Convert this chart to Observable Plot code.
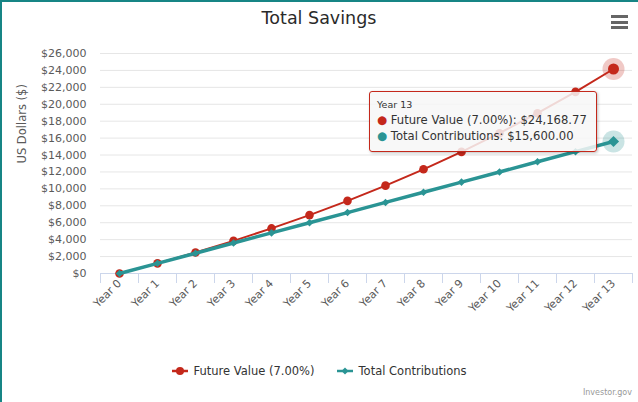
<!DOCTYPE html>
<html><head><meta charset="utf-8">
<script src="https://cdn.jsdelivr.net/npm/d3@7"></script>
<script src="https://cdn.jsdelivr.net/npm/@observablehq/plot@0.6"></script>
<style>
body{margin:0;background:#fff;}
#wrap{position:relative;width:638px;height:402px;overflow:hidden;font-family:"DejaVu Sans",sans-serif;background:#fff;}
#frame{position:absolute;left:0;top:0;width:638px;height:402px;border-top:2px solid #178585;border-left:2px solid #178585;box-sizing:border-box;pointer-events:none;z-index:5}
#title{position:absolute;top:6px;left:0;width:638px;text-align:center;font-size:17.5px;color:#2a2a2a;line-height:24px;}
#chart{position:absolute;top:40px;left:0;}
#menu{position:absolute;left:611px;top:15px;width:17px;}
#menu div{height:3px;background:#666;margin-bottom:2.5px;}
#tip{position:absolute;left:369px;top:91px;width:226px;height:59px;border:1px solid #c4281b;border-radius:3px;background:rgba(247,247,247,0.85);box-shadow:1px 1px 3px rgba(0,0,0,0.25);color:#333;box-sizing:content-box;}
#tip .hd{position:absolute;left:7px;top:7px;font-size:9.5px;}
#tip .ln{position:absolute;left:7px;font-size:11.6px;white-space:nowrap;}
#legend{position:absolute;top:364px;left:0;width:638px;display:flex;justify-content:center;align-items:center;font-size:11.5px;color:#333;}
#legend .item{display:flex;align-items:center;margin:0 11px;}
#legend svg{margin-right:6px;}
#credits{position:absolute;right:6px;top:388px;font-size:8px;color:#999;}
</style></head>
<body><div id="wrap"><div id="frame"></div>
<div id="title"></div>
<div id="chart"></div>
<div id="menu"><div></div><div></div><div></div></div>
<div id="legend"></div>
<div id="credits">Investor.gov</div>
<div id="tip"></div>
</div>
<script>
const years = ["Year 0","Year 1","Year 2","Year 3","Year 4","Year 5","Year 6","Year 7","Year 8","Year 9","Year 10","Year 11","Year 12","Year 13"];
const futureValue = [0, 1200, 2484, 3857.88, 5327.93, 6900.89, 8583.95, 10384.83, 12311.77, 14373.60, 16579.75, 18940.33, 21466.15, 24168.77];
const contributions = [0, 1200, 2400, 3600, 4800, 6000, 7200, 8400, 9600, 10800, 12000, 13200, 14400, 15600];
const yTicks = [0, 2000, 4000, 6000, 8000, 10000, 12000, 14000, 16000, 18000, 20000, 22000, 24000, 26000];
const seriesNames = ["Future Value (7.00%)", "Total Contributions"];
const seriesColors = ["#c4281b", "#2a9494"];
const titleText = "Total Savings";
const yLabel = "US Dollars ($)";
const hoverIndex = 13;

const RED = seriesColors[0], TEAL = seriesColors[1];
document.getElementById("title").textContent = titleText;

const data = years.map((y, i) => ({year: y, fv: futureValue[i], tc: contributions[i]}));
const hover = [data[hoverIndex]];
const W = 638, ML = 100, MR = 6;
const half = (W - ML - MR) / years.length / 2;
const money = d => "$" + d3.format(",")(d);

const plot = Plot.plot({
  width: W, height: 300, marginLeft: ML, marginRight: MR, marginTop: 13, marginBottom: 67,
  style: {fontFamily: '"DejaVu Sans", sans-serif', fontSize: "11px", color: "#5a5a5a", background: "transparent", overflow: "visible"},
  x: {type: "point", domain: years, padding: 0.5, label: null},
  y: {domain: [0, 26000], label: null},
  marks: [
    Plot.gridY(yTicks, {stroke: "#e6e6e6", strokeOpacity: 1}),
    Plot.axisY(yTicks, {tickSize: 0, tickPadding: 14, tickFormat: money, fill: "#5a5a5a", fontSize: 11, label: null}),
    Plot.text([yLabel], {frameAnchor: "left", dx: -78, rotate: -90, fontSize: 11.5, fill: "#5a5a5a"}),
    Plot.ruleY([0], {stroke: "#ccd6eb"}),
    Plot.axisX(years, {tickSize: 10, dx: -half, tickFormat: () => "", stroke: "#ccd6eb", strokeOpacity: 1, label: null}),
    Plot.axisX([years[years.length - 1]], {tickSize: 10, dx: half, tickFormat: () => "", stroke: "#ccd6eb", strokeOpacity: 1, label: null}),
    Plot.axisX(years, {tickSize: 0, tickRotate: -45, tickPadding: 8, fill: "#5a5a5a", fontSize: 11, label: null}),
    Plot.dot(hover, {x: "year", y: "fv", r: 11, fill: RED, fillOpacity: 0.25}),
    Plot.dot(hover, {x: "year", y: "tc", r: 11, fill: TEAL, fillOpacity: 0.25}),
    Plot.line(data, {x: "year", y: "fv", stroke: RED, strokeWidth: 2}),
    Plot.dot(data, {x: "year", y: "fv", r: 4.3, fill: RED}),
    Plot.dot(hover, {x: "year", y: "fv", r: 5.5, fill: RED}),
    Plot.line(data, {x: "year", y: "tc", stroke: TEAL, strokeWidth: 3.5}),
    Plot.dot(data, {x: "year", y: "tc", r: 3.4, symbol: "diamond2", fill: TEAL}),
    Plot.dot(hover, {x: "year", y: "tc", r: 5, symbol: "diamond2", fill: TEAL})
  ]
});
document.getElementById("chart").appendChild(plot);

// tooltip
const tip = document.getElementById("tip");
const h = data[hoverIndex];
const fmt2 = d3.format(",.2f");
tip.innerHTML = `<div class="hd">${h.year}</div>` +
  `<div class="ln" style="top:21px"><span style="color:${RED}">●</span> ${seriesNames[0]}: $${fmt2(h.fv)}</div>` +
  `<div class="ln" style="top:37px"><span style="color:${TEAL}">●</span> ${seriesNames[1]}: $${fmt2(h.tc)}</div>`;

// legend
const leg = document.getElementById("legend");
seriesNames.forEach((name, i) => {
  const item = document.createElement("div");
  item.className = "item";
  const c = seriesColors[i];
  const marker = i === 0
    ? `<circle cx="8" cy="6" r="4" fill="${c}"/>`
    : `<path d="M8 2.5 L11.5 6 L8 9.5 L4.5 6 Z" fill="${c}"/>`;
  item.innerHTML = `<svg width="16" height="12"><line x1="0" y1="6" x2="16" y2="6" stroke="${c}" stroke-width="2.5"/>${marker}</svg><span>${name}</span>`;
  leg.appendChild(item);
});
</script>
</body></html>
